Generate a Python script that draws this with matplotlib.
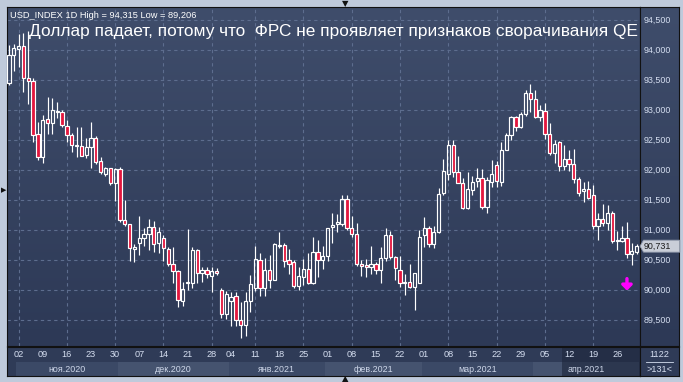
import numpy as np
import pandas as pd
import matplotlib
matplotlib.use("Agg")
import matplotlib.pyplot as plt
from matplotlib.patches import Rectangle, Polygon
from matplotlib.collections import LineCollection

# daily bars, USD_INDEX 1D (Jan 1 is missing in the feed)
dates = pd.bdate_range("2020-10-29", "2021-04-30").drop(pd.Timestamp("2021-01-01"))

opens = [
    93.45, 93.92,
    94.02, 94.06, 93.54, 93.48, 92.60,
    92.22, 92.85, 92.79, 92.99, 92.96,
    92.73, 92.58, 92.40, 92.40, 92.25,
    92.39, 92.54, 92.15, 91.93, 92.03,
    91.79, 92.01, 91.16, 91.10, 90.69,
    90.78, 90.86, 90.93, 91.05, 90.78,
    90.86, 90.69, 90.43, 90.32, 89.82,
    90.11, 90.12, 90.67, 90.29, 90.33,
    90.24, 90.32, 90.00, 89.60,
    89.81, 89.90, 89.50, 89.41, 89.82,
    90.03, 90.50, 90.03, 90.34, 90.17,
    90.73, 90.75, 90.50, 90.47, 90.06,
    90.22, 90.35, 90.12, 90.64, 90.50,
    90.56, 91.05, 91.10, 91.10, 91.52,
    91.03, 90.94, 90.44, 90.42, 90.39,
    90.44, 90.34, 90.53, 90.92, 90.55,
    90.34, 90.11, 90.13, 90.05, 90.12,
    90.92, 91.03, 90.77, 90.96, 91.61,
    91.93, 92.41, 91.96, 91.78, 91.36,
    91.66, 91.82, 91.86, 91.39, 91.80,
    92.09, 91.80, 92.34, 92.58, 92.88,
    92.72, 92.93, 93.28, 93.18, 92.89,
    92.98, 92.60, 92.29, 92.46, 92.07,
    92.18, 92.10, 91.85, 91.65, 91.68,
    91.58, 91.07, 91.19, 91.11, 91.28,
    90.82, 90.82, 90.86, 90.60, 90.64,
]
highs = [
    94.08, 94.10,
    94.27, 94.28, 94.315, 93.53, 92.80,
    92.92, 93.22, 93.20, 93.14, 93.00,
    92.83, 92.62, 92.72, 92.72, 92.53,
    92.80, 92.57, 92.21, 92.05, 92.04,
    92.03, 92.05, 91.50, 91.10, 90.77,
    91.23, 91.03, 91.19, 91.15, 91.05,
    90.92, 90.71, 90.71, 90.33, 90.14,
    91.01, 90.71, 90.68, 90.39, 90.39,
    90.38, 90.37, 90.03, 89.98,
    89.97, 89.96, 89.80, 89.96, 90.25,
    90.73, 90.62, 90.53, 90.58, 90.79,
    90.96, 90.79, 90.69, 90.50, 90.38,
    90.51, 90.61, 90.88, 90.84, 90.73,
    91.04, 91.28, 91.26, 91.58, 91.58,
    91.23, 91.11, 90.50, 90.51, 90.73,
    90.47, 90.72, 91.04, 90.98, 90.57,
    90.56, 90.27, 90.43, 90.29, 91.00,
    91.22, 91.07, 91.06, 91.70, 92.19,
    92.50, 92.50, 92.23, 91.87, 91.96,
    91.90, 92.03, 92.01, 91.89, 92.17,
    92.15, 92.46, 92.61, 92.90, 92.90,
    92.96, 93.33, 93.43, 93.33, 93.08,
    93.11, 92.78, 92.50, 92.48, 92.42,
    92.33, 92.35, 91.89, 91.80, 91.82,
    91.75, 91.29, 91.43, 91.42, 91.31,
    90.98, 91.07, 91.13, 90.78, 90.76,
]
lows = [
    93.42, 93.65,
    93.72, 93.30, 93.10, 92.47, 92.17,
    92.11, 92.60, 92.60, 92.87, 92.72,
    92.46, 92.30, 92.22, 92.24, 92.20,
    92.03, 92.10, 91.93, 91.90, 91.75,
    91.49, 91.14, 91.07, 90.49, 90.46,
    90.58, 90.73, 90.67, 90.64, 90.61,
    90.49, 90.40, 90.11, 89.71, 89.74,
    90.00, 90.03, 90.12, 90.14, 90.20,
    89.96, 90.25, 89.54, 89.51,
    89.40, 89.40, 89.206, 89.23, 89.64,
    89.99, 89.90, 89.90, 90.04, 90.17,
    90.70, 90.38, 90.26, 90.04, 90.00,
    90.08, 90.10, 90.10, 90.22, 90.35,
    90.48, 90.79, 90.97, 91.07, 91.00,
    90.89, 90.40, 90.24, 90.22, 90.26,
    90.26, 90.11, 90.49, 90.52, 90.16,
    90.05, 89.92, 90.03, 89.67, 90.11,
    90.72, 90.71, 90.70, 90.95, 91.58,
    91.83, 91.89, 91.78, 91.35, 91.35,
    91.58, 91.72, 91.35, 91.29, 91.72,
    91.71, 91.73, 92.34, 92.50, 92.65,
    92.70, 92.90, 92.97, 92.86, 92.81,
    92.51, 92.25, 92.12, 91.99, 92.00,
    91.99, 91.78, 91.56, 91.47, 91.51,
    91.02, 90.84, 91.07, 91.00, 90.79,
    90.67, 90.80, 90.54, 90.41, 90.60,
]
closes = [
    93.92, 94.03,
    94.07, 93.54, 93.48, 92.58, 92.22,
    92.84, 92.78, 93.00, 92.96, 92.75,
    92.58, 92.42, 92.42, 92.24, 92.38,
    92.54, 92.14, 91.96, 92.03, 91.79,
    92.01, 91.16, 91.10, 90.70, 90.71,
    90.86, 90.94, 91.05, 90.77, 90.96,
    90.70, 90.43, 90.32, 89.83, 90.01,
    90.13, 90.67, 90.29, 90.33, 90.26,
    90.31, 90.28, 89.60, 89.93,
    89.89, 89.50, 89.41, 89.82, 90.10,
    90.52, 90.03, 90.34, 90.17, 90.76,
    90.75, 90.48, 90.44, 90.06, 90.23,
    90.35, 90.12, 90.64, 90.50, 90.57,
    91.04, 91.08, 91.13, 91.52, 91.03,
    90.94, 90.44, 90.40, 90.38, 90.44,
    90.34, 90.53, 90.92, 90.55, 90.36,
    90.11, 90.14, 90.05, 90.28, 90.89,
    91.03, 90.77, 90.97, 91.60, 91.98,
    92.41, 91.96, 91.78, 91.36, 91.68,
    91.80, 91.86, 91.39, 91.83, 91.94,
    91.81, 92.34, 92.58, 92.88, 92.72,
    92.93, 93.28, 93.18, 92.89, 93.00,
    92.60, 92.28, 92.43, 92.06, 92.18,
    92.10, 91.85, 91.62, 91.68, 91.53,
    91.07, 91.19, 91.11, 91.28, 90.81,
    90.83, 90.86, 90.60, 90.65, 90.731,
]
price_ticks = [89.5, 90.0, 90.5, 91.0, 91.5, 92.0, 92.5, 93.0, 93.5, 94.0, 94.5]
month_names = {11: "ноя", 12: "дек", 1: "янв", 2: "фев", 3: "мар", 4: "апр"}
title = "Доллар падает, потому что  ФРС не проявляет признаков сворачивания QE"
info = "USD_INDEX 1D High = 94,315 Low = 89,206"
last_price = closes[-1]
signal_bar = "2021-04-28"

o = np.array(opens); h = np.array(highs); l = np.array(lows); c = np.array(closes)
x = np.arange(len(dates)) - 2          # Nov 2 = 0

W, H = 683, 382
def box(x0, y0, x1, y1):
    return [x0 / W, 1 - y1 / H, (x1 - x0) / W, (y1 - y0) / H]

fig = plt.figure(figsize=(W / 100, H / 100), dpi=100, facecolor="#bfcadb")
plt.rcParams["font.family"] = ["Liberation Sans", "DejaVu Sans"]

XL = (-2.4, 128.7)
YL = (89.067, 94.717)
ax = fig.add_axes(box(7, 7, 640, 346))
ax.set_xlim(*XL)
ax.set_ylim(*YL)
grad = np.linspace(0, 1, 256).reshape(-1, 1)
top_c = np.array([63, 77, 107]) / 255
bot_c = np.array([45, 57, 86]) / 255
img = top_c * (1 - grad[..., None]) + bot_c * grad[..., None]
ax.imshow(img, extent=[XL[0], XL[1], YL[0], YL[1]], aspect="auto", zorder=0)
for s in ax.spines.values():
    s.set_color("#111111")
    s.set_linewidth(0.8)
ax.set_xticks([]); ax.set_yticks([])

# grid
grid_kw = dict(color="#5d6d8e", lw=0.8, ls=(0, (3, 3)), zorder=1)
for p in price_ticks:
    ax.axhline(p, **grid_kw)
mondays = [i for i, d in zip(x, dates) if d.weekday() == 0]
for i in mondays[::2]:
    ax.axvline(i, **grid_kw)

# candles
up = c >= o
body_lo = np.minimum(o, c)
body_hi = np.maximum(o, c)
segs = []
for i in range(len(x)):
    segs.append([(x[i], l[i]), (x[i], body_lo[i])])
    segs.append([(x[i], body_hi[i]), (x[i], h[i])])
ax.add_collection(LineCollection(segs, colors="white", linewidths=0.85, zorder=3))
bw = 0.68
for i in range(len(x)):
    hgt = max(body_hi[i] - body_lo[i], 0.012)
    ax.add_patch(Rectangle((x[i] - bw / 2, body_lo[i]), bw, hgt,
                           facecolor="none" if up[i] else "#e3173e",
                           edgecolor="white", lw=0.85, zorder=4))

# signal arrow
si = x[list(dates).index(pd.Timestamp(signal_bar))]
ax.annotate("", xy=(si, 89.99), xytext=(si, 90.19),
            arrowprops=dict(arrowstyle="-|>,head_width=0.3,head_length=0.3",
                            color="#ff00ff", lw=2.4, shrinkA=0, shrinkB=0), zorder=5)

# labels over the chart
ax.text(0.005, 0.987, info, transform=ax.transAxes, fontsize=6.7, color="white",
        va="top", ha="left", zorder=6)
ax.text(0.034, 0.928, title, transform=ax.transAxes, fontsize=12.45, color="white",
        va="center", ha="left", zorder=6)

# price axis
pax = fig.add_axes(box(640, 7, 679, 346), sharey=ax)
pax.set_xlim(0, 1)
pax.imshow(img, extent=[0, 1, YL[0], YL[1]], aspect="auto", zorder=0)
pax.set_xticks([]); pax.set_yticks([])
for s in pax.spines.values():
    s.set_color("#111111"); s.set_linewidth(0.8)
for p in price_ticks:
    pax.text(0.1, p, f"{p:.3f}".replace(".", ","), fontsize=6.4, color="#d5def0",
             va="center", ha="left")
pax.add_patch(Polygon([(0.0, last_price), (0.09, last_price + 0.1), (1.02, last_price + 0.1),
                       (1.02, last_price - 0.1), (0.09, last_price - 0.1)],
                      closed=True, facecolor="#c9ced8", edgecolor="#8d96a8", lw=0.6, zorder=3,
                      clip_on=False))
pax.text(0.1, last_price, f"{last_price:.3f}".replace(".", ","), fontsize=6.4,
         color="#1a1a1a", va="center", ha="left", zorder=4)

# date axis
dax = fig.add_axes(box(7, 347, 640, 376), sharex=ax)
dax.set_ylim(0, 1)
dax.set_facecolor("#2f3b57")
dax.set_xticks([]); dax.set_yticks([])
for s in dax.spines.values():
    s.set_color("#111111"); s.set_linewidth(0.8)
months = pd.Series(x, index=dates).groupby([dates.year, dates.month])
band_cols = ["#3b4966", "#45536f"]
k = 0
for (yr, mo), idx in months:
    if yr == 2020 and mo == 10:
        continue
    lo_i, hi_i = idx.min() - 0.5, idx.max() + 0.5
    dax.axvspan(lo_i, hi_i, 0, 0.48, color=band_cols[k % 2], lw=0)
    dax.text((lo_i + hi_i) / 2, 0.24, f"{month_names[mo]}.{yr}", fontsize=6.4,
             color="#cfd8ea", ha="center", va="center")
    k += 1
for i, d in zip(x, dates):
    if d.weekday() == 0 or i == 0:
        dax.text(i, 0.74, f"{d.day:02d}", fontsize=6.6, color="#d5def0",
                 ha="center", va="center")
dax.axvspan(112.5, XL[1], color="#1f283e", alpha=0.65, lw=0)

# corner box
cax = fig.add_axes(box(640, 347, 679, 376))
cax.set_facecolor("#2f3b57")
cax.set_xticks([]); cax.set_yticks([])
for s in cax.spines.values():
    s.set_color("#111111"); s.set_linewidth(0.8)
cax.text(0.5, 0.74, "1122", fontsize=6.6, color="#d5def0", ha="center", va="center")
cax.plot([0.15, 0.85], [0.5, 0.5], color="#d5def0", lw=0.6)
cax.text(0.5, 0.24, f">{len(dates)}<", fontsize=6.6, color="#d5def0", ha="center", va="center")
cax.set_xlim(0, 1); cax.set_ylim(0, 1)

# frame markers
fig.text(345 / W, 1 - 4 / H, "▼", fontsize=6, color="#111111", ha="center", va="center",
         family="DejaVu Sans")
fig.text(345 / W, 1 - 379 / H, "▲", fontsize=6, color="#111111", ha="center", va="center",
         family="DejaVu Sans")
fig.text(3.5 / W, 1 - 190 / H, "▶", fontsize=5, color="#111111", ha="center", va="center",
         family="DejaVu Sans")

fig.savefig("out.png", dpi=100, facecolor=fig.get_facecolor())
